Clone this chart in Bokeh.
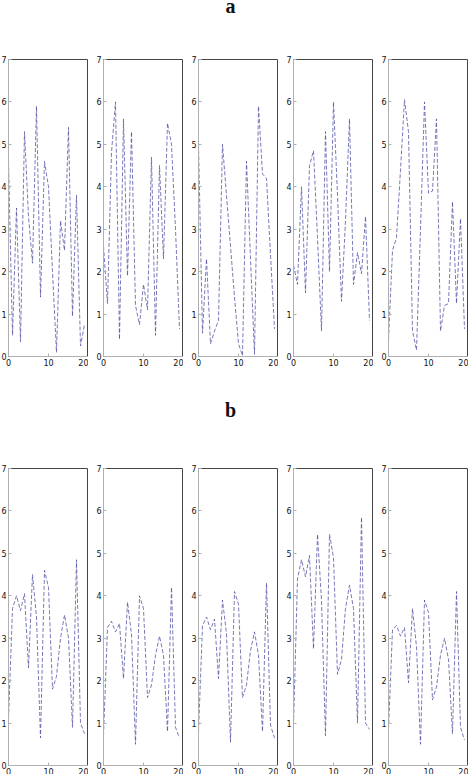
from bokeh.plotting import figure
from bokeh.layouts import row, column
from bokeh.models import FixedTicker, Label
from bokeh.embed import file_html
from bokeh.resources import INLINE

x = list(range(20))

# panel a
a1 = [4.6, 0.5, 3.5, 0.35, 5.3, 3.3, 2.2, 5.9, 1.4, 4.6, 4.0, 2.0, 0.1, 3.2, 2.5, 5.4, 0.95, 3.8, 0.25, 0.75]
a2 = [2.6, 1.25, 4.8, 6.0, 0.4, 5.6, 1.9, 5.3, 1.2, 0.75, 1.7, 1.1, 4.7, 0.5, 4.5, 2.3, 5.5, 5.0, 3.0, 0.65]
a3 = [5.0, 0.55, 2.3, 0.3, 0.6, 0.85, 5.0, 3.8, 2.6, 1.4, 0.3, 0.02, 4.6, 2.3, 0.05, 5.9, 4.3, 4.2, 2.4, 0.65]
a4 = [2.15, 1.7, 4.0, 1.5, 4.5, 4.85, 2.8, 0.6, 5.3, 2.0, 6.0, 3.8, 1.3, 3.2, 5.6, 1.7, 2.45, 1.95, 3.3, 0.85]
a5 = [0.4, 2.5, 2.8, 4.4, 6.05, 5.3, 0.6, 0.15, 3.0, 6.0, 3.85, 3.9, 5.6, 0.6, 1.2, 1.25, 3.65, 1.25, 3.25, 0.65]

# panel b
b1 = [1.1, 3.7, 4.0, 3.65, 4.05, 2.3, 4.5, 3.5, 0.65, 4.6, 4.2, 1.8, 2.1, 3.0, 3.55, 3.0, 0.9, 4.85, 1.0, 0.75]
b2 = [0.7, 3.25, 3.4, 3.15, 3.35, 2.05, 3.85, 3.1, 0.5, 4.0, 3.7, 1.6, 1.9, 2.6, 3.05, 2.6, 0.8, 4.2, 0.9, 0.65]
b3 = [0.8, 3.3, 3.5, 3.2, 3.45, 2.05, 3.9, 3.1, 0.55, 4.1, 3.8, 1.6, 1.9, 2.7, 3.15, 2.6, 0.8, 4.3, 0.95, 0.65]
b4 = [0.95, 4.4, 4.85, 4.45, 4.95, 2.75, 5.45, 3.9, 0.7, 5.45, 4.9, 2.15, 2.5, 3.7, 4.25, 3.7, 1.0, 5.85, 1.0, 0.85]
b5 = [0.85, 3.2, 3.3, 3.05, 3.25, 1.95, 3.7, 2.8, 0.5, 3.9, 3.6, 1.55, 1.85, 2.6, 3.0, 2.5, 0.75, 4.1, 0.9, 0.6]

panel_titles = ["a", "b"]
y_ticks = [0, 1, 2, 3, 4, 5, 6, 7]
x_ticks = [0, 10, 20]

LINE = "#4c4ca0"


def make_fig(ys, top, bottom):
    p = figure(frame_width=80, frame_height=297, x_range=(0, 20), y_range=(0, 7),
               toolbar_location=None, output_backend="svg",
               min_border_left=15, min_border_right=0,
               min_border_top=top, min_border_bottom=bottom)
    p.line(x, ys, line_color=LINE, line_width=1, line_alpha=0.75, line_dash="4 2")
    p.xgrid.visible = False
    p.ygrid.visible = False
    p.outline_line_color = "#444444"
    p.outline_line_width = 1
    p.xaxis.ticker = FixedTicker(ticks=x_ticks)
    p.yaxis.ticker = FixedTicker(ticks=y_ticks)
    for ax in (p.xaxis[0], p.yaxis[0]):
        ax.axis_line_color = "#b0b0b0"
        ax.major_tick_in = 3
        ax.major_tick_out = 0
        ax.major_tick_line_color = "#b0b0b0"
        ax.minor_tick_line_color = None
        ax.major_label_text_font = "DejaVu Sans"
        ax.major_label_text_font_size = "8px"
        ax.major_label_text_color = "#111111"
        ax.major_label_standoff = 2
    p.background_fill_color = "white"
    p.border_fill_color = "white"
    return p


def title_fig(txt, h, label_y):
    t = figure(width=475, height=h, x_range=(0, 1), y_range=(0, 1),
               toolbar_location=None, output_backend="svg",
               min_border=0, outline_line_color=None)
    t.axis.visible = False
    t.xgrid.visible = False
    t.ygrid.visible = False
    t.add_layout(Label(x=237, y=label_y, x_units="screen", y_units="screen",
                       text=txt, text_align="center", text_baseline="alphabetic",
                       text_font="Liberation Serif", text_font_style="bold",
                       text_font_size="20px", text_color="#111111"))
    return t


row_a = row([make_fig(s, 29, 41) for s in (a1, a2, a3, a4, a5)], spacing=0)
row_b = row([make_fig(s, 31, 9) for s in (b1, b2, b3, b4, b5)], spacing=0)

layout = column([title_fig(panel_titles[0], 30, 25), row_a,
                 title_fig(panel_titles[1], 40, 28), row_b],
                spacing=0, styles={"margin-left": "-7px", "margin-top": "0px"})

open("out.html", "w").write(file_html(layout, INLINE))
